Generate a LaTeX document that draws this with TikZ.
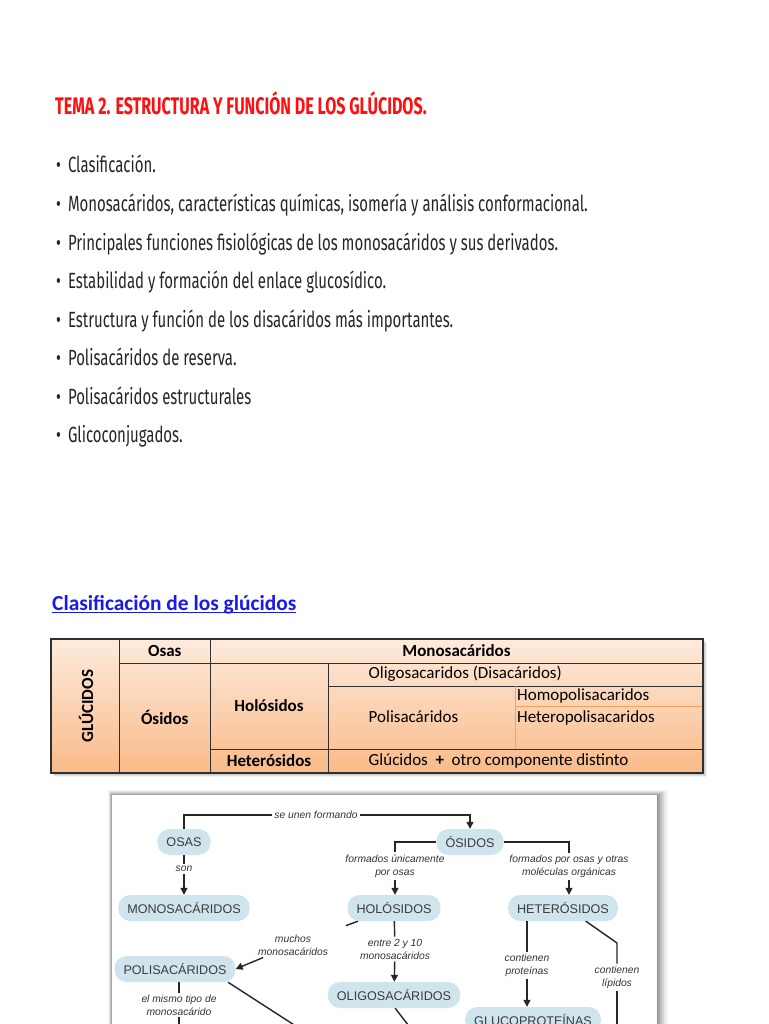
\documentclass[tikz,border=0pt]{standalone}
\usepackage{fontspec}
\setmainfont{Liberation Sans}
\newfontfamily\agencytitle[FakeStretch=0.67]{Fira Sans}
\newfontfamily\agency[FakeStretch=0.68]{Fira Sans}
\newfontfamily\calibri{Carlito}
\usetikzlibrary{arrows.meta,positioning}

\definecolor{titlered}{HTML}{FF1010}
\definecolor{linkblue}{HTML}{1A1AE6}
\definecolor{tabtop}{HTML}{FDEBDD}
\definecolor{tabbot}{HTML}{F9BA88}
\definecolor{taborange}{HTML}{F5A25D}
\definecolor{tabline}{HTML}{303030}
\definecolor{pillblue}{HTML}{CFE4ED}
\definecolor{pilltext}{HTML}{3C3C3C}

\tikzset{
    bullet/.style={anchor=base west, inner sep=0pt, text=black!85, font=\agency\fontsize{22}{22}\selectfont},
    cell/.style={inner sep=0pt, font=\calibri\fontsize{17}{17}\selectfont},
    headcell/.style={inner sep=0pt, font=\calibri\bfseries\fontsize{17}{17}\selectfont},
    concept/.style={fill=pillblue, rounded corners=12pt, minimum height=26pt, inner xsep=9pt, text=pilltext, font=\fontsize{12.6}{12.6}\selectfont},
    linklabel/.style={align=center, inner sep=2pt, text=black!80, font=\fontsize{10.3}{13}\selectfont\itshape},
    link/.style={line width=1.4pt, draw=black!85},
    linkarrow/.style={link, -{Triangle[length=7pt,width=7pt]}},
}

\begin{document}
\begin{tikzpicture}[x=1pt, y=1pt]
    \useasboundingbox (0,0) rectangle (768,-1024);
    \clip (0,0) rectangle (768,-1024);
    \fill[white] (0,0) rectangle (768,-1024);

    % Title
    \node[anchor=base west, inner sep=0pt, text=titlered, font=\agencytitle\bfseries\fontsize{24}{24}\selectfont] (title) at (55,-115) {TEMA 2. ESTRUCTURA Y FUNCIÓN DE LOS GLÚCIDOS.};

    % Topics
    \foreach \txt [count=\i from 0] in {{Clasificación.},
        {Monosacáridos, características químicas, isomería y análisis conformacional.},
        {Principales funciones fisiológicas de los monosacáridos y sus derivados.},
        {Estabilidad y formación del enlace glucosídico.},
        {Estructura y función de los disacáridos más importantes.},
        {Polisacáridos de reserva.},
        {Polisacáridos estructurales},
        {Glicoconjugados.}} {
        \node[bullet] (item\i) at (56, {-173-38.57*\i}) {•\hspace{3pt} \txt};
    }

    % Heading
    \node[anchor=base west, inner sep=0pt, text=linkblue, font=\calibri\bfseries\fontsize{21.4}{21.4}\selectfont] (heading) at (52,-610) {Clasificación de los glúcidos};
    \draw[linkblue, line width=1.1pt] ([yshift=-2.5pt]heading.base west) -- ([yshift=-2.5pt]heading.base east);

    % Table
    \foreach \s/\o in {1/0.12, 2/0.10, 3/0.08, 4/0.05} {
        \fill[black, opacity=\o] (51+\s,-639-\s) rectangle (703+\s,-773-\s);
    }
    \shade[top color=tabtop, bottom color=tabbot] (51,-639) rectangle (703,-773);
    \draw[tabline, line width=0.9pt] (119.5,-639) -- (119.5,-773) (210,-639) -- (210,-773)
        (328.5,-663) -- (328.5,-773) (119.5,-663) -- (703,-663)
        (328.5,-686) -- (703,-686) (210,-749) -- (703,-749);
    \draw[taborange, line width=0.9pt] (515,-686) -- (515,-749) (515,-706.5) -- (703,-706.5);
    \draw[tabline, line width=1.1pt] (51,-639) rectangle (703,-773);

    \node[headcell, rotate=90] (glucidos) at (86,-706) {GLÚCIDOS};
    \node[headcell] (osas-t) at (164.75,-651) {Osas};
    \node[headcell] (mono-t) at (456.5,-651) {Monosacáridos};
    \node[headcell] (osidos-t) at (164.75,-717) {Ósidos};
    \node[headcell] (holo-t) at (269,-706) {Holósidos};
    \node[headcell] (hetero-t) at (269,-761) {Heterósidos};
    \node[cell, anchor=west] (oligo-t) at (368.5,-674) {Oligosacaridos (Disacáridos)};
    \node[cell, anchor=west] (poli-t) at (368.5,-717) {Polisacáridos};
    \node[cell, anchor=west] (homo-t) at (517,-696) {Homopolisacaridos};
    \node[cell, anchor=west] (heteropoli-t) at (517,-718) {Heteropolisacaridos};
    \node[cell, anchor=west] (mezcla-t) at (368.5,-761) {Glúcidos \ \textbf{+} \ otro componente distinto};

    % Concept map frame
    \foreach \s/\o in {1/0.14, 3/0.12, 5/0.10, 7/0.08, 9/0.06, 11/0.04} {
        \fill[black, opacity=\o] (112-\s/3,-795+\s/2) rectangle (657+\s,-1030);
    }
    \fill[white] (112,-795) rectangle (657,-1030);

    % Concepts
    \node[concept] (osas) at (184,-842) {OSAS};
    \node[concept] (osidos) at (470,-842) {ÓSIDOS};
    \node[concept] (mono) at (184,-908) {MONOSACÁRIDOS};
    \node[concept] (holo) at (394,-908) {HOLÓSIDOS};
    \node[concept] (hetero) at (563,-908) {HETERÓSIDOS};
    \node[concept] (poli) at (175,-969) {POLISACÁRIDOS};
    \node[concept] (oligo) at (394,-995) {OLIGOSACÁRIDOS};
    \node[concept] (gluco) at (533,-1020) {GLUCOPROTEÍNAS};

    % Link labels
    \node[linklabel] (unen) at (316,-815) {se unen formando};
    \node[linklabel] (son) at (184,-869) {son};
    \node[linklabel] (unica) at (395,-866) {formados únicamente\\por osas};
    \node[linklabel] (otras) at (569,-866) {formados por osas y otras\\moléculas orgánicas};
    \node[linklabel] (muchos) at (293,-945) {muchos\\monosacáridos};
    \node[linklabel] (entre) at (395,-949) {entre 2 y 10\\monosacáridos};
    \node[linklabel] (proteinas) at (527,-965) {contienen\\proteínas};
    \node[linklabel] (lipidos) at (617,-977) {contienen\\lípidos};
    \node[linklabel] (mismo) at (179,-1005) {el mismo tipo de\\monosacárido};

    % Links
    \draw[link] (osas.north) |- (unen.west);
    \draw[linkarrow] (unen.east) -| (osidos.north);
    \draw[link] (osas) -- (son);
    \draw[linkarrow] (son) -- (mono);
    \draw[link] (osidos.west) -| (unica.north);
    \draw[linkarrow] (unica.south) -- (unica.south |- holo.north);
    \draw[link] (osidos.east) -| (otras.north);
    \draw[linkarrow] (otras.south) -- (otras.south |- hetero.north);
    \draw[link, shorten >=20pt] (holo) -- (muchos);
    \draw[linkarrow] (muchos) -- (poli.east);
    \draw[link] (holo) -- (entre);
    \draw[linkarrow] (entre) -- (oligo);
    \draw[link] (proteinas |- hetero.south) -- (proteinas);
    \draw[linkarrow] (proteinas) -- (proteinas |- gluco.north);
    \coordinate (lipbend) at (617,-943);
    \coordinate (lipend) at (617,-1030);
    \draw[link] (hetero.-30) -- (lipbend) -- (lipidos);
    \draw[link] (lipidos) -- (lipend);
    \coordinate (mismoend) at (179,-1030);
    \draw[link] (mismo |- poli.south) -- (mismo);
    \draw[link] (mismo) -- (mismoend);
    \coordinate (poliend) at (302,-1030);
    \draw[link] (poli.-14) -- (poliend);
    \coordinate (oligoend) at (412,-1030);
    \draw[link] (oligo.-85) -- (oligoend);
\end{tikzpicture}
\end{document}
